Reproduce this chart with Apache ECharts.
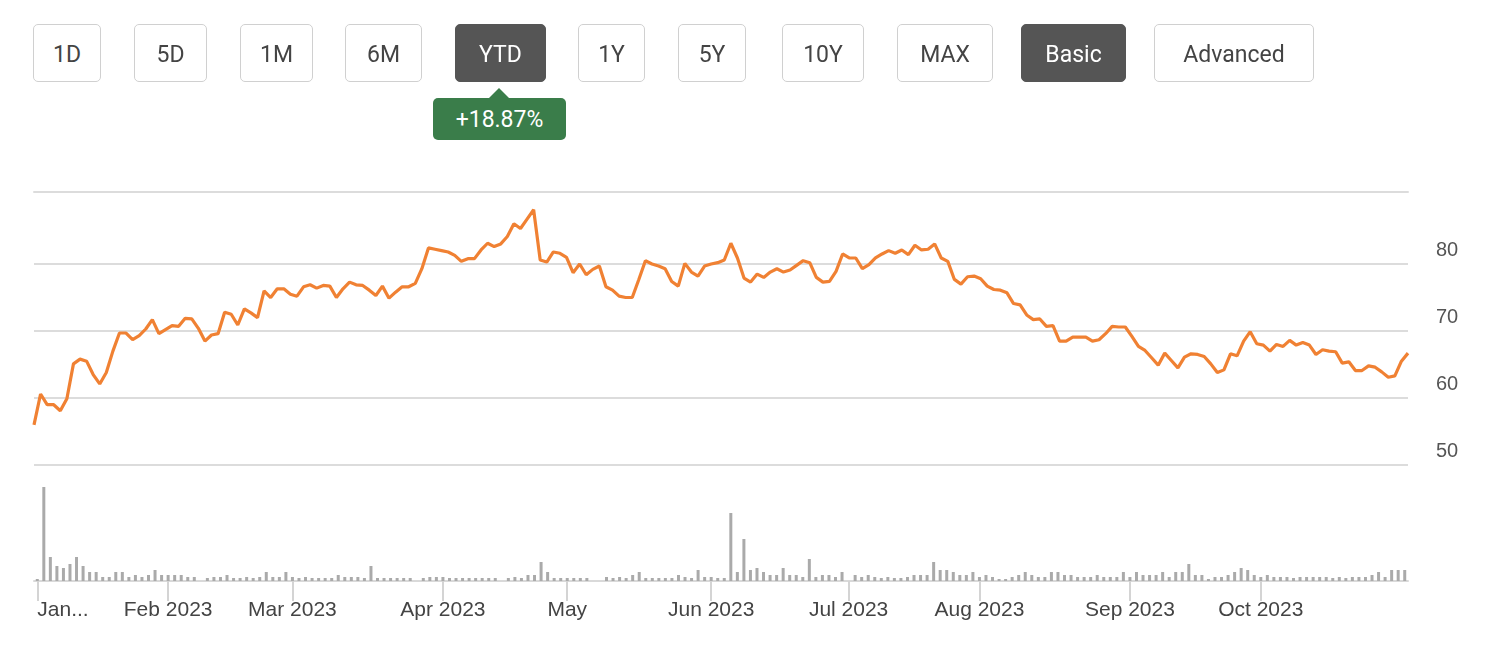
<!DOCTYPE html>
<html><head><meta charset="utf-8">
<script src="https://cdn.jsdelivr.net/npm/echarts@6/dist/echarts.min.js"></script>
<style>
body{margin:0;background:#fff;font-family:"Helvetica Neue",Roboto,"Liberation Sans",sans-serif;}
#chart{position:absolute;left:0;top:0;width:1496px;height:652px;}
.btn{position:absolute;top:24px;height:58px;padding-top:2px;border:1px solid #d0d0d0;border-radius:5px;box-sizing:border-box;display:flex;align-items:center;justify-content:center;font-size:23px;color:#444;background:#fff;}
.btn.on{background:#555;color:#fff;border-color:#555;}
#badge{position:absolute;left:433px;top:98px;width:133px;height:42px;background:#3a7d4a;color:#fff;border-radius:5px;font-size:23px;display:flex;align-items:center;justify-content:center;}
#badge:before{content:"";position:absolute;left:56px;top:-10px;border-left:10px solid transparent;border-right:10px solid transparent;border-bottom:10px solid #3a7d4a;}
</style></head><body>
<div id="chart"></div>
<div id="btns"></div>
<div id="badge">+18.87%</div>
<script>
const buttons = [["1D",33,68],["5D",134,73],["1M",240,73],["6M",345,77],["YTD",455,91,1],["1Y",578,67],["5Y",678,68],["10Y",782,82],["MAX",897,96],["Basic",1021,105,1],["Advanced",1154,160]];
const bc = document.getElementById('btns');
buttons.forEach(b=>{const d=document.createElement('div');d.className='btn'+(b[3]?' on':'');d.style.left=b[1]+'px';d.style.width=b[2]+'px';d.textContent=b[0];bc.appendChild(d);});

const holidays = ["2023-01-16","2023-02-20","2023-04-07","2023-05-29","2023-06-19","2023-07-04","2023-09-04"];
const startDate = "2023-01-03", endDate = "2023-11-01";
const dates = [];
for(let d=new Date(startDate+"T00:00:00Z"); d<=new Date(endDate+"T00:00:00Z"); d.setUTCDate(d.getUTCDate()+1)){
  const wd=d.getUTCDay(); const s=d.toISOString().slice(0,10);
  if(wd===0||wd===6||holidays.includes(s)) continue; dates.push(s);
}
const prices = [56.0,60.6,59.0,59.0,58.1,59.9,65.1,65.8,65.5,63.5,
62.1,63.8,67.0,69.7,69.7,68.7,69.3,70.3,71.7,69.6,
70.2,70.8,70.7,71.9,71.8,70.4,68.5,69.4,69.6,72.8,
72.5,70.9,73.3,72.7,72.0,76.0,75.0,76.3,76.3,75.5,
75.2,76.6,76.9,76.4,76.8,76.7,75.0,76.3,77.3,76.9,
76.8,76.1,75.3,76.7,74.9,75.8,76.6,76.6,77.1,79.3,
82.4,82.2,82.0,81.8,81.3,80.4,80.8,80.8,82.1,83.1,
82.6,83.0,84.1,86.0,85.3,86.7,88.1,80.6,80.3,81.8,
81.6,81.0,78.7,80.0,78.4,79.2,79.7,76.6,76.1,75.2,
75.0,75.0,77.7,80.5,80.0,79.7,79.3,77.4,76.7,80.1,
78.8,78.2,79.7,80.0,80.2,80.6,83.1,80.9,77.9,77.3,
78.5,78.0,78.8,79.3,78.8,79.1,79.8,80.5,80.2,78.0,
77.3,77.4,78.9,81.5,80.9,80.9,79.3,79.9,80.9,81.5,
82.0,81.6,82.1,81.4,82.8,82.1,82.2,83.0,80.9,80.4,
77.7,77.0,78.1,78.2,77.8,76.7,76.2,76.1,75.7,74.1,
73.9,72.4,71.7,71.8,70.7,70.8,68.5,68.5,69.1,69.1,
69.1,68.5,68.7,69.6,70.7,70.6,70.6,69.2,67.7,67.1,
66.0,64.9,66.7,65.6,64.5,66.1,66.6,66.5,66.2,65.1,
63.8,64.2,66.6,66.3,68.5,69.9,68.1,67.9,67.0,68.0,
67.7,68.6,67.9,68.3,67.9,66.5,67.2,67.0,66.9,65.2,
65.4,64.1,64.1,64.8,64.6,63.9,63.1,63.3,65.5,66.7];
const volumes = [2,94,24,15,13,17,24,15,9,9,
4,4,9,9,4,6,4,6,11,6,
6,6,6,4,4,0,3,4,4,6,
3,3,4,3,4,9,4,4,9,4,
3,4,3,3,3,3,6,4,4,4,
3,15,3,3,3,3,3,3,0,3,
4,4,4,3,3,3,3,3,3,3,
3,0,3,4,3,6,6,19,9,3,
3,3,3,3,3,0,0,4,3,4,
3,6,9,3,3,3,3,3,6,4,
3,11,4,4,3,3,68,9,42,11,
13,9,6,6,13,6,6,4,22,4,
6,6,4,9,0,6,4,6,4,3,
4,3,3,4,6,6,6,19,11,11,
9,6,6,9,4,6,4,2,2,4,
6,9,6,4,4,9,9,6,6,4,
4,4,6,4,4,4,9,4,9,6,
6,6,9,4,9,9,17,6,6,2,
4,4,6,9,13,11,6,4,6,4,
4,4,3,4,4,4,4,4,3,4,
3,4,4,4,6,9,4,11,11,11];
const yTicks = [50,60,70,80];
const monthNames = ["Jan","Feb","Mar","Apr","May","Jun","Jul","Aug","Sep","Oct","Nov","Dec"];

const isMonthStart = i => i===0 || dates[i].slice(5,7)!==dates[i-1].slice(5,7);
const showTick = (i)=> isMonthStart(i) && dates[i].slice(5,7)!=="11";
const fmt = (v,i)=>{const m=+v.slice(5,7)-1; if(i===0) return "Jan..."; if(m===4) return "May"; return monthNames[m]+" 2023";};

const chart = echarts.init(document.getElementById('chart'));
chart.setOption({
  animation:false,
  grid:[{left:34,right:88,top:192,height:273},{left:34,right:88,top:470,height:111}],
  xAxis:[
    {type:'category',gridIndex:0,data:dates,boundaryGap:false,show:false},
    {type:'category',gridIndex:1,data:dates,boundaryGap:true,
     axisLine:{show:true,lineStyle:{color:'#d9d9d9',width:2}},
     axisTick:{show:true,alignWithLabel:true,interval:(i)=>showTick(i),length:20,lineStyle:{color:'#d4d4d4',width:2}},
     axisLabel:{interval:(i)=>showTick(i),formatter:fmt,color:'#444',fontSize:21,margin:19,
       alignMinLabel:'left'}},
    {type:'category',gridIndex:0,data:dates,position:'top',boundaryGap:false,
     axisLine:{show:true,lineStyle:{color:'#dcdcdc',width:2}},axisTick:{show:false},axisLabel:{show:false}}
  ],
  yAxis:[
    {type:'value',gridIndex:0,position:'right',min:50,max:90.75,interval:10,
     axisLine:{show:false},axisTick:{show:false,customValues:yTicks},
     splitLine:{lineStyle:{color:'#dcdcdc',width:2}},
     axisLabel:{customValues:yTicks,color:'#555',fontSize:20,margin:28,verticalAlign:'bottom',padding:[0,0,4,0],
       formatter:v=>yTicks.includes(v)?String(v):''}},
    {type:'value',gridIndex:1,min:0,max:111,show:false}
  ],
  series:[
    {type:'line',xAxisIndex:0,yAxisIndex:0,data:prices,showSymbol:false,lineStyle:{color:'#f08133',width:3.2},itemStyle:{color:'#f08133'}},
    {type:'bar',xAxisIndex:1,yAxisIndex:1,data:volumes,barWidth:3,itemStyle:{color:'#aaaaaa'}}
  ]
});
</script></body></html>
